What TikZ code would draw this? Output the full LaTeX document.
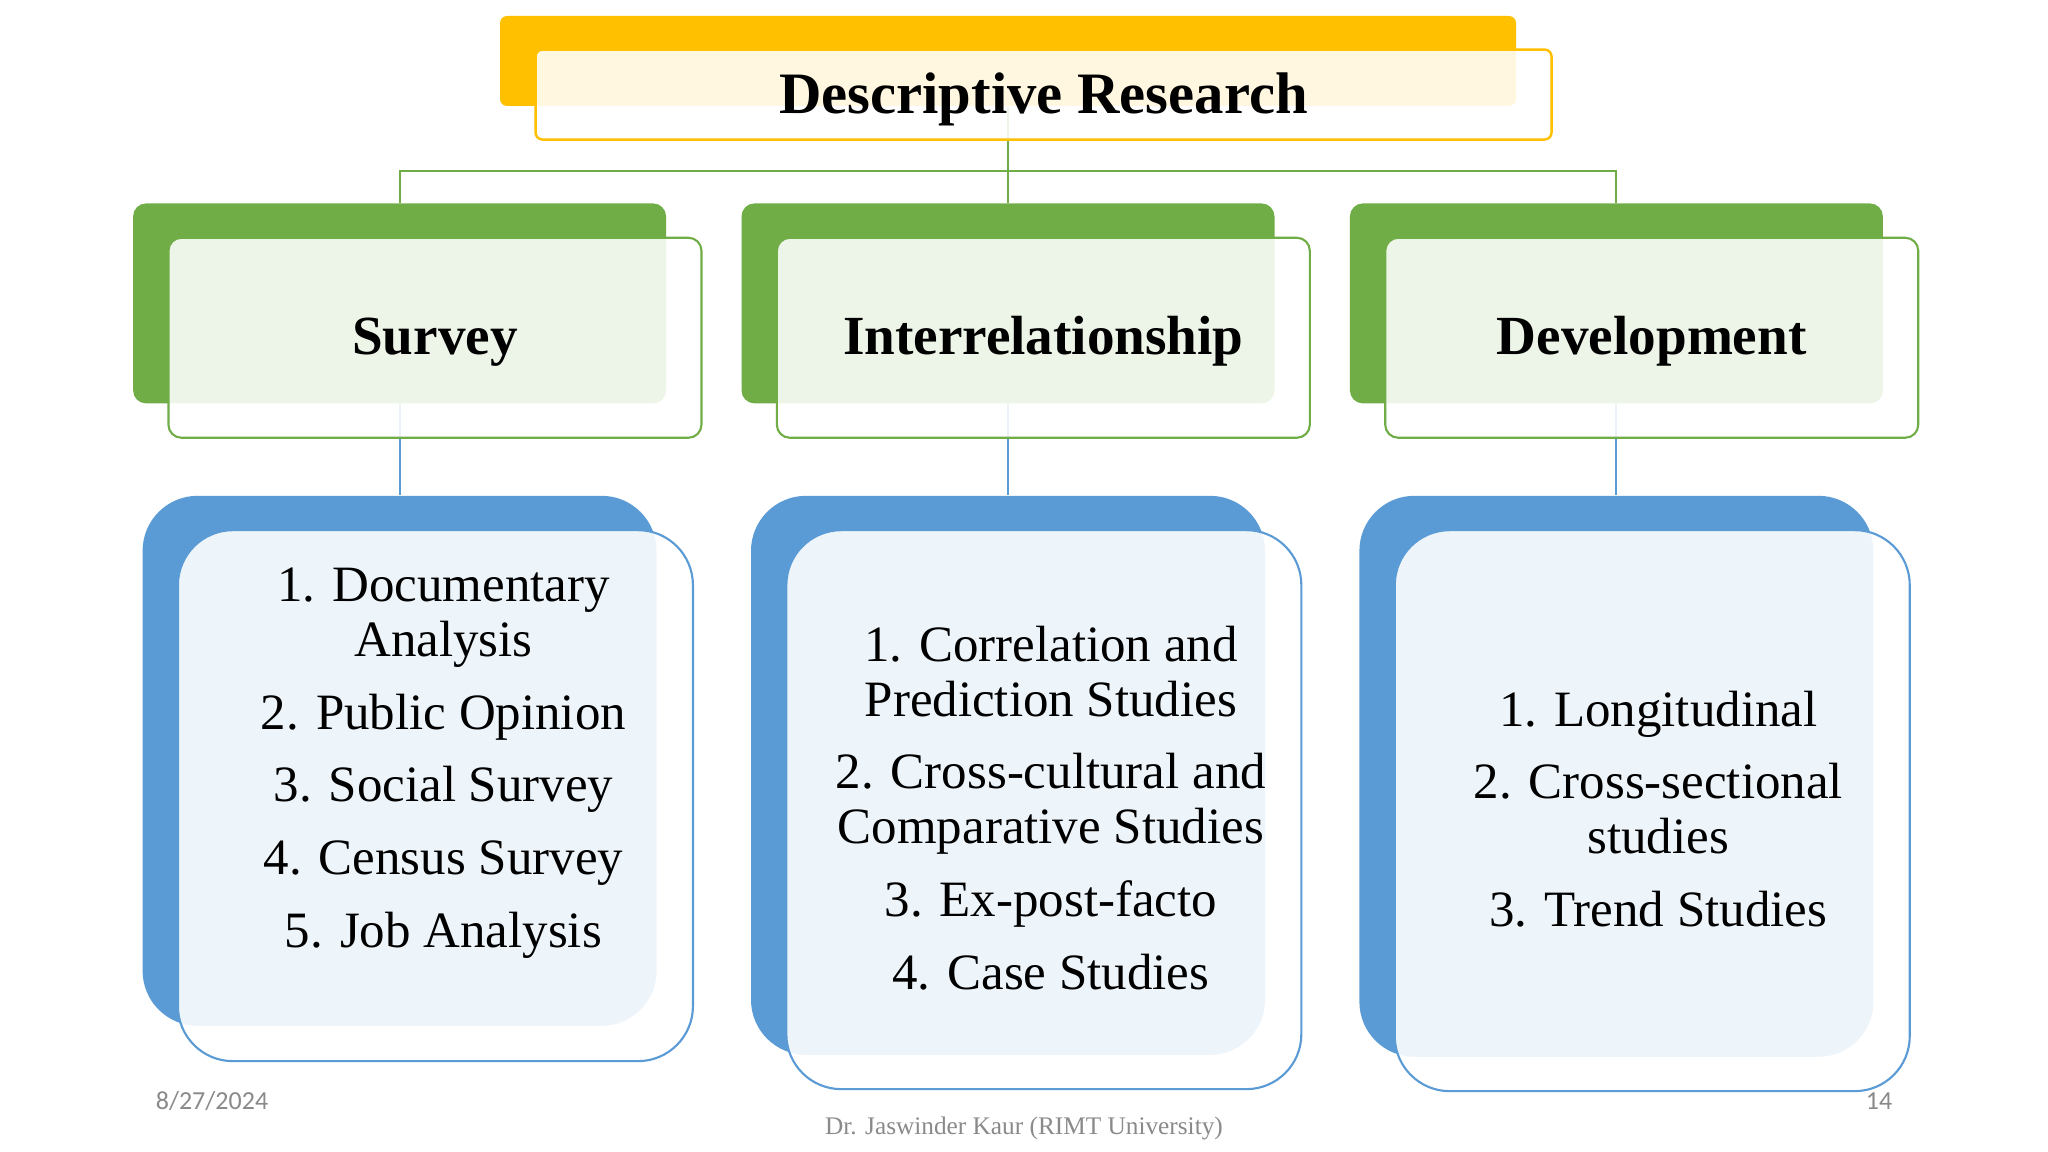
\documentclass[tikz,border=0pt]{standalone}
\usepackage{fontspec}
\setmainfont{Liberation Serif}
\newfontfamily\footsans{Carlito}
\usetikzlibrary{positioning}

\definecolor{rsyellow}{HTML}{FFC000}
\definecolor{rsgreen}{HTML}{70AD47}
\definecolor{rsblue}{HTML}{5B9BD5}
\definecolor{footgray}{HTML}{8A8A8A}

\begin{document}
\begin{tikzpicture}[
    node distance=0.95cm and 0.74cm,
    font=\fontsize{14.5}{15.6}\selectfont,
    % Back panels and the light panels laid over them
    titleback/.style={rectangle, fill=rsyellow, minimum width=10.16cm, minimum height=0.9cm, rounded corners=0.07cm, inner sep=0pt},
    titlefront/.style={rectangle, draw=rsyellow, line width=0.7pt, fill=white, fill opacity=0.88, text opacity=1, minimum width=10.16cm, minimum height=0.9cm, rounded corners=0.07cm, inner sep=0pt, text height=11.5pt, text depth=0.8pt, font=\fontsize{16.7}{19}\selectfont\bfseries},
    headback/.style={rectangle, fill=rsgreen, minimum width=5.33cm, minimum height=2cm, rounded corners=0.13cm, inner sep=0pt},
    headfront/.style={rectangle, draw=rsgreen, line width=0.6pt, fill=white, fill opacity=0.88, text opacity=1, minimum width=5.33cm, minimum height=2cm, rounded corners=0.13cm, inner sep=0pt, text height=11pt, text depth=1.2pt, font=\fontsize{15.7}{18}\selectfont\bfseries},
    listback/.style={rectangle, fill=rsblue, minimum width=5.14cm, rounded corners=0.55cm, inner sep=0pt},
    listfront/.style={rectangle, draw=rsblue, line width=0.6pt, fill=white, fill opacity=0.9, minimum width=5.15cm, rounded corners=0.55cm, inner sep=0pt},
    listtext/.style={align=center, inner sep=0pt},
    greenline/.style={draw=rsgreen, line width=0.6pt},
    blueline/.style={draw=rsblue, line width=0.6pt},
    foot/.style={text=footgray, inner sep=0pt}
]

% --- Page ---
\fill[white] (0,0) rectangle (20.48,-11.52);
\useasboundingbox (0,0) rectangle (20.48,-11.52);

% --- Back panels ---

% Title
\node[titleback] (titleback) at (10.08,-0.61) {};

% Headings
\node[headback, below=0.96cm of titleback] (interback) {};
\node[headback, left=of interback] (surveyback) {};
\node[headback, right=of interback] (develback) {};

% Lists
\node[listback, minimum height=5.30cm, below=0.91cm of surveyback] (surveylistback) {};
\node[listback, minimum height=5.59cm, below=0.91cm of interback] (interlistback) {};
\node[listback, minimum height=5.61cm, below=0.91cm of develback] (devellistback) {};

% --- Connectors ---
\coordinate[below=0.64cm of titleback.south] (hub);
\draw[greenline] (titleback.south) -- (hub) -| (surveyback.north);
\draw[greenline] (hub) -- (interback.north);
\draw[greenline] (hub) -| (develback.north);

\draw[blueline] (surveyback) -- (surveylistback);
\draw[blueline] (interback) -- (interlistback);
\draw[blueline] (develback) -- (devellistback);

% --- Front panels ---
\node[titlefront, below right=0.33cm and 0.35cm of titleback.north west] (title) {Descriptive Research};

\node[headfront, below right=0.34cm and 0.35cm of surveyback.north west] (survey) {Survey};
\node[headfront, below right=0.34cm and 0.35cm of interback.north west] (inter) {Interrelationship};
\node[headfront, below right=0.34cm and 0.35cm of develback.north west] (devel) {Development};

\node[listfront, minimum height=5.31cm, below right=0.34cm and 0.35cm of surveylistback.north west] (surveylist) {};
\node[listfront, minimum height=5.59cm, below right=0.34cm and 0.35cm of interlistback.north west] (interlist) {};
\node[listfront, minimum height=5.61cm, below right=0.34cm and 0.35cm of devellistback.north west] (devellist) {};

% --- List texts ---
\node[listtext, below=0.38cm of surveylist.north, xshift=0.08cm] (surveyitems)
  {1. Documentary\\ Analysis\\[5.1pt] 2. Public Opinion\\[5.1pt] 3. Social Survey\\[5.1pt] 4. Census Survey\\[5.1pt] 5. Job Analysis};
\node[listtext, below=0.96cm of interlist.north, xshift=0.07cm] (interitems)
  {1. Correlation and\\ Prediction Studies\\[5.1pt] 2. Cross-cultural and\\ Comparative Studies\\[5.1pt] 3. Ex-post-facto\\[5.1pt] 4. Case Studies};
\node[listtext, below=1.61cm of devellist.north, xshift=0.06cm] (develitems)
  {1. Longitudinal\\[5.1pt] 2. Cross-sectional\\ studies\\[5.1pt] 3. Trend Studies};

% --- Footer ---
\node[foot, font=\footsans\fontsize{7.4}{9}\selectfont] (date) at (2.12,-11.01) {8/27/2024};
\node[foot, font=\footsans\fontsize{7.4}{9}\selectfont] (page) at (18.79,-11.01) {14};
\node[foot, font=\fontsize{7.2}{9}\selectfont] (author) at (10.24,-11.28) {Dr. Jaswinder Kaur (RIMT University)};

\end{tikzpicture}
\end{document}
